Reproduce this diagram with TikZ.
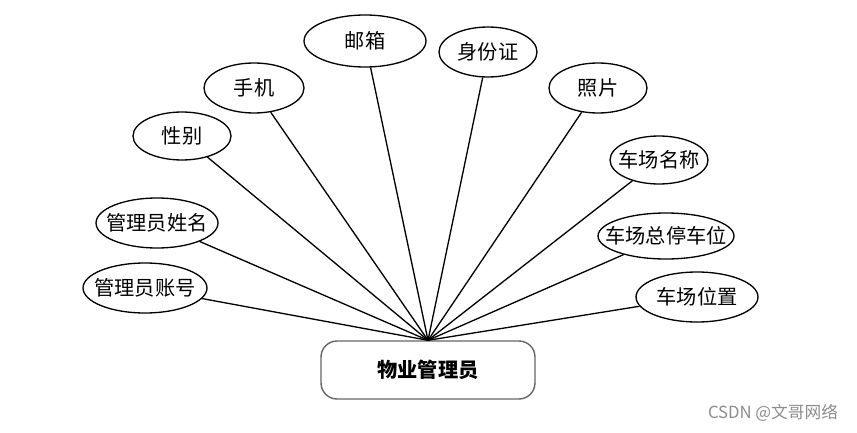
\documentclass[tikz,border=0pt]{standalone}
\usepackage{fontspec}
\setmainfont{Noto Sans CJK SC}
\usepackage{tikz}
\usetikzlibrary{shapes.geometric,positioning}

\newcommand{\lbl}[1]{\makebox[0pt]{#1}}

\begin{document}
\begin{tikzpicture}[
    x=0.02cm, y=-0.02cm,
    attr/.style={ellipse, draw, line width=0.75pt, inner sep=0pt, font=\fontsize{11.5}{13}\selectfont},
    entity/.style={rectangle, rounded corners=0.32cm, draw=black!60, line width=0.8pt, minimum width=4.28cm, minimum height=1.16cm, font=\fontsize{11.5}{13}\selectfont\bfseries},
    link/.style={line width=0.75pt}
]
\useasboundingbox (0,0) rectangle (857,432);

\node[entity] (admin) at (428,370) {物业管理员};
\coordinate (hub) at (admin.north);

\node[attr, minimum width=2.48cm, minimum height=1cm] (account) at (145,288) {\lbl{管理员账号}};
\node[attr, minimum width=2.44cm, minimum height=1cm] (name) at (157,223) {\lbl{管理员姓名}};
\node[attr, minimum width=1.96cm, minimum height=0.96cm] (gender) at (182,136) {\lbl{性别}};
\node[attr, minimum width=2cm, minimum height=1cm] (phone) at (254,88) {\lbl{手机}};
\node[attr, minimum width=2.44cm, minimum height=1.04cm] (email) at (365,41) {\lbl{邮箱}};
\node[attr, minimum width=1.96cm, minimum height=1cm] (idcard) at (488,52) {\lbl{身份证}};
\node[attr, minimum width=1.96cm, minimum height=1cm] (photo) at (598,88) {\lbl{照片}};
\node[attr, minimum width=1.96cm, minimum height=0.96cm] (lotname) at (659,160) {\lbl{车场名称}};
\node[attr, minimum width=2.72cm, minimum height=0.92cm] (lotspaces) at (666,236) {\lbl{车场总停车位}};
\node[attr, minimum width=2.44cm, minimum height=1cm] (lotplace) at (697,297) {\lbl{车场位置}};

\foreach \a in {account,name,gender,phone,email,idcard,photo,lotname,lotspaces,lotplace}
    \draw[link] (hub) -- (\a);

\node[text=black!45, font=\fontsize{9.5}{11}\selectfont] (mark) at (773,413) {CSDN @文哥网络};

\end{tikzpicture}
\end{document}
